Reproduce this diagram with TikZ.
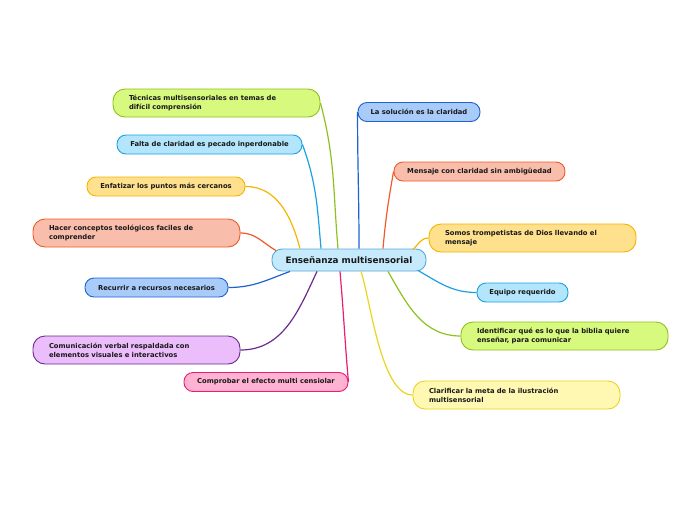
\documentclass[tikz,border=0pt]{standalone}
\usepackage{fontspec}
\setmainfont{DejaVu Sans}
\usepackage{xcolor}
\usetikzlibrary{calc}

\definecolor{grnF}{HTML}{D6F97E}\definecolor{grnD}{HTML}{8DC21E}
\definecolor{cyaF}{HTML}{B3E5FC}\definecolor{cyaD}{HTML}{1BA1E2}
\definecolor{orgF}{HTML}{FFE08C}\definecolor{orgD}{HTML}{F5B400}
\definecolor{salF}{HTML}{F9BDAB}\definecolor{salD}{HTML}{F05A28}
\definecolor{bluF}{HTML}{A9CBF9}\definecolor{bluD}{HTML}{1C63D1}
\definecolor{purF}{HTML}{ECBDFB}\definecolor{purD}{HTML}{6A2C8C}
\definecolor{pnkF}{HTML}{FFB2D2}\definecolor{pnkD}{HTML}{EB1C73}
\definecolor{yelF}{HTML}{FFF8B3}\definecolor{yelD}{HTML}{EAD51C}
\definecolor{ctrF}{HTML}{C5EAFB}\definecolor{ctrD}{HTML}{5AA7DD}

\begin{document}
\begin{tikzpicture}[x=1pt,y=-1pt,
  idea/.style={draw,rounded corners=9pt,line width=0.9pt,inner xsep=0pt,inner ysep=0pt,
    minimum height=19pt,font=\fontsize{6.8}{9}\selectfont\bfseries,text=black!90},
  wide/.style={idea,rounded corners=12pt,minimum height=28pt,text width=175pt,align=left,inner xsep=16pt},
  link/.style={line width=1.2pt}]
\useasboundingbox (0,0) rectangle (697,520);
% centre
\node[draw=ctrD,fill=ctrF,rounded corners=10pt,line width=0.9pt,minimum width=154pt,minimum height=22pt,
  inner sep=0pt,font=\fontsize{8.8}{10}\selectfont\bfseries,text=black!90] (c) at (349,260) {Enseñanza multisensorial};
% left side
\node[wide,draw=grnD,fill=grnF] (tec) at (216.5,103) {Técnicas multisensoriales en temas de\\difícil comprensión};
\node[idea,draw=cyaD,fill=cyaF,minimum width=185pt] (fal) at (209.5,144.5) {Falta de claridad es pecado inperdonable};
\node[idea,draw=orgD,fill=orgF,minimum width=158pt] (enf) at (166,186.5) {Enfatizar los puntos más cercanos};
\node[wide,draw=salD,fill=salF] (hac) at (136.5,233) {Hacer conceptos teológicos faciles de\\comprender};
\node[idea,draw=bluD,fill=bluF,minimum width=143pt] (rec) at (156.5,287.5) {Recurrir a recursos necesarios};
\node[wide,draw=purD,fill=purF] (com) at (136.5,350) {Comunicación verbal respaldada con\\elementos visuales e interactivos};
\node[idea,draw=pnkD,fill=pnkF,minimum width=164pt] (cpb) at (266,382) {Comprobar el efecto multi censiolar};
% right side
\node[idea,draw=bluD,fill=bluF,minimum width=122pt] (sol) at (419,112) {La solución es la claridad};
\node[idea,draw=salD,fill=salF,minimum width=171pt] (men) at (479.5,171.5) {Mensaje con claridad sin ambigüedad};
\node[wide,draw=orgD,fill=orgF] (som) at (532.5,238) {Somos trompetistas de Dios llevando el\\mensaje};
\node[idea,draw=cyaD,fill=cyaF,minimum width=91pt] (equ) at (522.5,292.5) {Equipo requerido};
\node[wide,draw=grnD,fill=grnF] (ide) at (564.5,336) {Identificar qué es lo que la biblia quiere\\enseñar, para comunicar};
\node[wide,draw=yelD,fill=yelF] (cla) at (516.5,395) {Clarificar la meta de la ilustración\\multisensorial};
% connectors
\draw[link,salD] ($(c.north)+(-73,2)$) to[out=150,in=0] (hac.east);
\draw[link,orgD] ($(c.north)+(-49,0)$) to[out=105,in=0] (enf.east);
\draw[link,cyaD] ($(c.north)+(-28,0)$) to[out=95,in=-70] (fal.east);
\draw[link,grnD] ($(c.north)+(-11,0)$) to[out=95,in=-75] (tec.east);
\draw[link,bluD] ($(c.north)+(10,0)$) to[out=90,in=-90] (sol.west);
\draw[link,salD] ($(c.north)+(34,0)$) to[out=85,in=-100] (men.west);
\draw[link,orgD] ($(c.north)+(64,1)$) to[out=45,in=180] (som.west);
\draw[link,bluD] ($(c.south)+(-59,0)$) to[out=-160,in=0] (rec.east);
\draw[link,purD] ($(c.south)+(-32,0)$) to[out=-115,in=0] (com.east);
\draw[link,pnkD] ($(c.south)+(-9,0)$) to[out=-85,in=95] (cpb.east);
\draw[link,yelD] ($(c.south)+(12,0)$) to[out=-72,in=180,looseness=0.6] (cla.west);
\draw[link,grnD] ($(c.south)+(39,0)$) to[out=-60,in=180] (ide.west);
\draw[link,cyaD] ($(c.south)+(69,-1)$) to[out=-30,in=180] (equ.west);
\end{tikzpicture}
\end{document}
